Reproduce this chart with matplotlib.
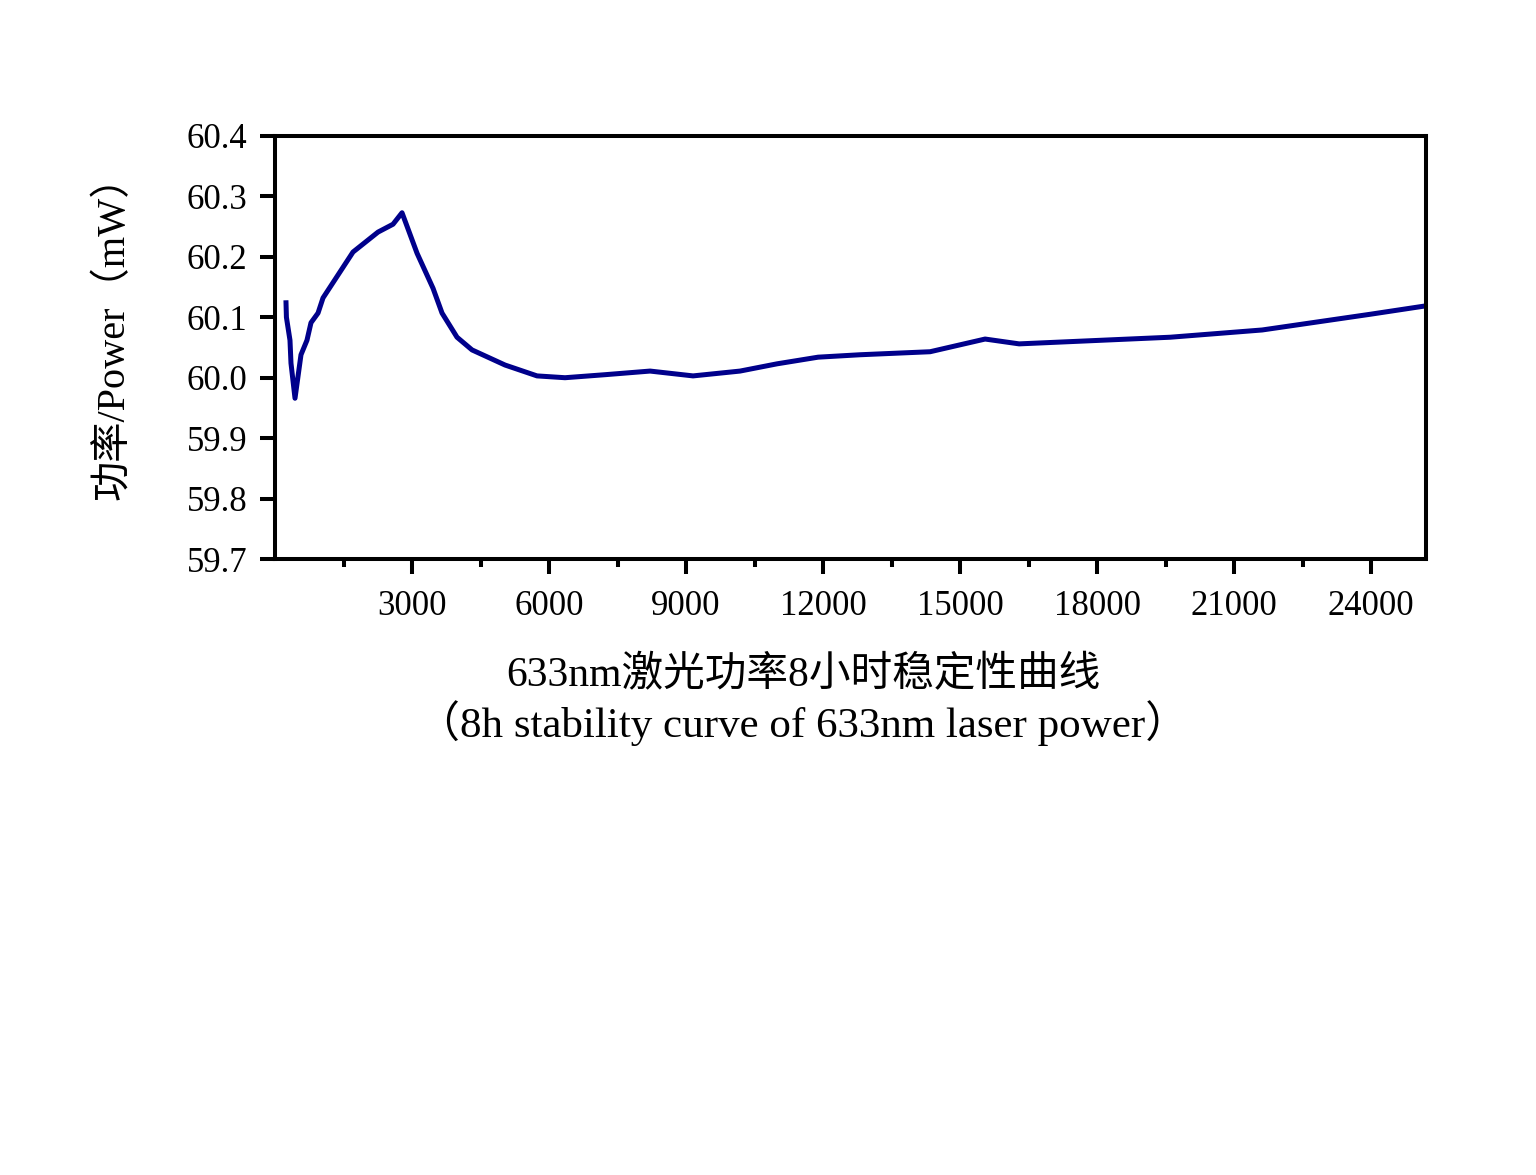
import numpy as np
import matplotlib.pyplot as plt
from matplotlib.ticker import FixedLocator

# time (s) and laser power (mW)
time_s = [241, 250, 328, 350, 438, 569, 700, 788, 942, 1051,
          1708, 2256, 2584, 2781, 3110, 3460, 3657, 3985, 4314, 5036,
          5737, 6350, 7226, 8212, 9153, 10182, 10993, 11891, 12810, 14343,
          15547, 16292, 19599, 21613, 23978, 25204]
power_mw = [60.124, 60.100, 60.062, 60.024, 59.966, 60.038, 60.062, 60.091, 60.107, 60.132,
            60.208, 60.241, 60.254, 60.273, 60.206, 60.148, 60.107, 60.067, 60.046, 60.021,
            60.003, 60.000, 60.005, 60.011, 60.003, 60.011, 60.023, 60.034, 60.038, 60.043,
            60.064, 60.056, 60.067, 60.079, 60.105, 60.119]

x_ticks = [3000, 6000, 9000, 12000, 15000, 18000, 21000, 24000]
y_ticks = [59.7, 59.8, 59.9, 60.0, 60.1, 60.2, 60.3, 60.4]

title_cn = "633nm激光功率8小时稳定性曲线"
title_en = "（8h stability curve of 633nm laser power）"
ylabel = "功率/Power（mW）"

fonts = ['Liberation Serif', 'Noto Sans CJK SC', 'DejaVu Sans']
plt.rcParams['font.family'] = fonts

fig = plt.figure(figsize=(15.36, 11.75), dpi=100)
ax = fig.add_axes([275 / 1536, 1 - 559 / 1175, (1426 - 275) / 1536, (559 - 136) / 1175])

ax.plot(time_s, power_mw, color='#00008b', lw=3.6)

ax.set_xlim(0, 25200)
ax.set_ylim(59.7, 60.4)
ax.xaxis.set_major_locator(FixedLocator(x_ticks))
ax.xaxis.set_minor_locator(FixedLocator([t - 1500 for t in x_ticks]))
ax.set_xticklabels([str(t) for t in x_ticks])
ax.set_yticks(y_ticks)
ax.set_yticklabels([f"{v:.1f}" for v in y_ticks])

for s in ax.spines.values():
    s.set_linewidth(2.9)
ax.tick_params(axis='both', which='major', direction='out', width=2.9, labelsize=25)
ax.tick_params(axis='x', which='major', length=11, pad=11)
ax.tick_params(axis='x', which='minor', length=5.5, width=2.9)
ax.tick_params(axis='y', which='major', length=11, pad=9)

fig.text(803 / 1536, 1 - 676 / 1175, title_cn, ha='center', va='center', fontsize=30)
fig.text(803 / 1536, 1 - 723 / 1175, title_en, ha='center', va='center', fontsize=31)
fig.text(113 / 1536, 1 - 328 / 1175, ylabel, ha='center', va='center', rotation=90, fontsize=29)

fig.savefig('out.png', dpi=100)
